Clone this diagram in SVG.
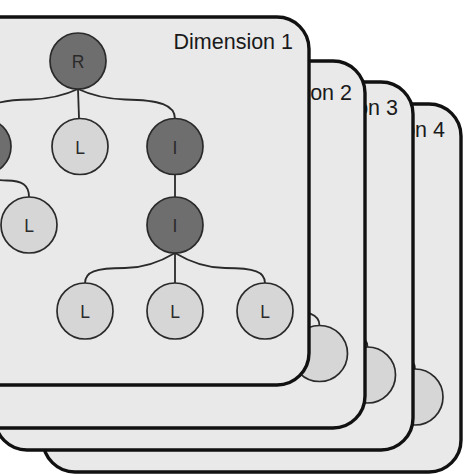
<svg xmlns="http://www.w3.org/2000/svg" xmlns:xlink="http://www.w3.org/1999/xlink" width="474" height="474" viewBox="0 0 474 474">
<style>
.panel{fill:#e9e9e9;stroke:#111;stroke-width:3.4}
.title{font-family:"Liberation Sans",Arial,sans-serif;font-size:21.5px;fill:#1a1a1a;text-anchor:end}
.edge{fill:none;stroke:#2a2a2a;stroke-width:1.8;visibility:visible}
.dark{fill:#6e6e6e;stroke:#2a2a2a;stroke-width:1.7;visibility:visible}
.light{fill:#d6d6d6;stroke:#2a2a2a;stroke-width:1.7;visibility:visible}
.lbl{font-family:"Liberation Sans",Arial,sans-serif;font-size:17.5px;fill:#2a2a2a;text-anchor:middle;dominant-baseline:central}
</style>
<rect width="474" height="474" fill="#ffffff"/>

<g id="dimension4">
<rect class="panel" x="43" y="104" width="418" height="368" rx="32"/>
<text class="title" x="445" y="137">Dimension 4</text>
<use xlink:href="#tree1" href="#tree1" visibility="hidden" transform="translate(150,86)"/>
</g>
<g id="dimension3">
<rect class="panel" x="-5" y="82" width="418" height="368" rx="32"/>
<text class="title" x="398" y="115">Dimension 3</text>
<use xlink:href="#tree1" href="#tree1" visibility="hidden" transform="translate(102.5,64)"/>
</g>
<g id="dimension2">
<rect class="panel" x="-53" y="61" width="418" height="367" rx="32"/>
<text class="title" x="352" y="100">Dimension 2</text>
<use xlink:href="#tree1" href="#tree1" visibility="hidden" transform="translate(54.5,42.5)"/>
</g>
<g id="dimension1">
<rect class="panel" x="-109" y="17" width="418" height="368" rx="32"/>
<text class="title" x="293" y="49">Dimension 1</text>
<g id="tree1">
<g id="connectors">
<path class="edge" d="M78,89 L79,118"/>
<path class="edge" d="M78,89 C95,97 110,99 125,99.5 C160,100 175,105 175,119"/>
<path class="edge" d="M78,89 C61,97 46,99 31,99.5 C-4,100 -17,105 -17,119"/>
<path class="edge" d="M-17,174 C-10,179 0,180.5 7,180.5 C22,180.5 29,185 29,197"/>
<path class="edge" d="M175,174 L175,197"/>
<path class="edge" d="M175,253 L175,283"/>
<path class="edge" d="M175,253 C155,265 140,268 125,268 C95,268 85,272 85,283"/>
<path class="edge" d="M175,253 C195,265 210,268 225,268 C255,268 265,272 265,283"/>
</g>
<g id="node-R"><circle class="dark" cx="78" cy="61" r="28"/><text class="lbl" x="78" y="62">R</text></g>
<g id="node-I-left"><circle class="dark" cx="-17" cy="146.5" r="28"/></g>
<g id="node-L-mid"><circle class="light" cx="80" cy="146.5" r="28"/><text class="lbl" x="80" y="147.5">L</text></g>
<g id="node-I-right"><circle class="dark" cx="175" cy="146.5" r="28"/><text class="lbl" x="175" y="147.5">I</text></g>
<g id="node-L-left2"><circle class="light" cx="29" cy="225" r="28"/><text class="lbl" x="29" y="226">L</text></g>
<g id="node-I-2"><circle class="dark" cx="175" cy="225" r="28"/><text class="lbl" x="175" y="226">I</text></g>
<g id="node-L-a"><circle class="light" cx="85" cy="311" r="28"/><text class="lbl" x="85" y="312">L</text></g>
<g id="node-L-b"><circle class="light" cx="175" cy="311" r="28"/><text class="lbl" x="175" y="312">L</text></g>
<g id="node-L-c"><circle class="light" cx="265" cy="311" r="28"/><text class="lbl" x="265" y="312">L</text></g>
</g>
</g>
</svg>
